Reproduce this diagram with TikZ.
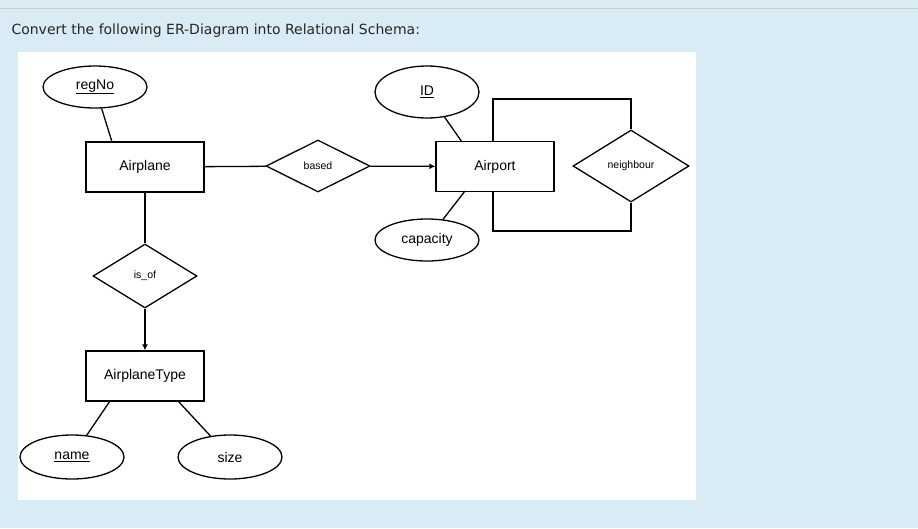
\documentclass[tikz,border=0pt]{standalone}
\usepackage{fontspec}
\setmainfont{Liberation Sans}
\newfontfamily\titlefont{DejaVu Sans}
\usetikzlibrary{shapes.geometric,arrows.meta}
\definecolor{bg}{HTML}{D9EBF5}
\begin{document}
\begin{tikzpicture}[x=1pt,y=-1pt,
  ent/.style={draw,line width=1.3pt,minimum width=118pt,minimum height=50pt,font=\fontsize{14}{16}\selectfont},
  att/.style={draw,line width=1.3pt,ellipse,minimum width=104pt,minimum height=42pt,font=\fontsize{14}{16}\selectfont},
  rel/.style={draw,line width=1.3pt,diamond,aspect=2,inner sep=0pt,font=\fontsize{10.5}{12}\selectfont},
  ln/.style={line width=1.3pt},
  arr/.style={line width=1.3pt,-{Latex[length=6pt,width=6pt]}}]
\fill[bg] (0,0) rectangle (918,528);
\useasboundingbox (0,0) rectangle (918,528);
\draw[gray!40] (0,8) -- (918,8);
\fill[white] (18,52) rectangle (696,500);
\node[anchor=west,font=\titlefont\fontsize{14}{16}\selectfont,text=black!85] (title) at (8,31) {Convert the following ER-Diagram into Relational Schema:};
\node[ent] (airplane) at (145,167) {Airplane};
\node[ent] (airport) at (495,166.5) {Airport};
\node[ent] (atype) at (145,376) {AirplaneType};
\node[att] (regno) at (95,87) {\underline{regNo}};
\node[att,minimum height=52pt] (id) at (427,92) {\underline{ID}};
\node[att] (cap) at (427,240) {capacity};
\node[att,minimum height=44pt] (name) at (72,457) {\underline{name}};
\node[att,minimum height=44pt] (size) at (230,457) {size};
\node[rel,minimum width=104pt,minimum height=52pt] (based) at (318,166) {based};
\node[rel,minimum width=116pt,minimum height=72pt] (neigh) at (631,166) {neighbour};
\node[rel,minimum width=104pt,minimum height=64pt] (isof) at (145,276) {is\_of};
\draw[ln] (regno) -- (112,142);
\draw[ln] (airplane) -- (based);
\draw[arr] (based) -- (airport);
\draw[ln] (id) -- (462,142);
\draw[ln] (cap) -- (465,191);
\draw[ln] (493,141.5) -- (493,99) -- (631,99) -- (neigh.north);
\draw[ln] (493,191.5) -- (493,231) -- (631,231) -- (neigh.south);
\draw[ln] (airplane) -- (isof);
\draw[arr] (isof) -- (atype);
\draw[ln] (110,401) -- (name);
\draw[ln] (178,401) -- (size);
\end{tikzpicture}
\end{document}
